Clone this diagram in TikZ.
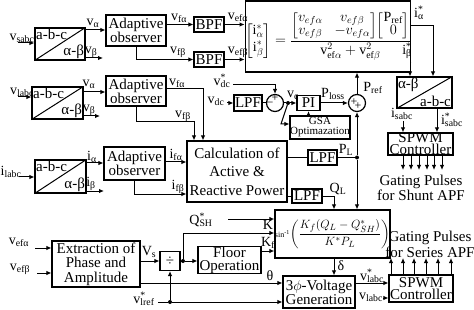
\documentclass[tikz,border=0pt]{standalone}
\usepackage{fontspec}
\setmainfont{Liberation Serif}
\usepackage{amsmath}
\usetikzlibrary{arrows.meta}

\newcommand{\sg}[2]{#1\textsubscript{#2}}
\newcommand{\sgs}[2]{#1\rlap{\textsuperscript{*}}\textsubscript{#2}}

\begin{document}
\begin{tikzpicture}[x=1pt, y=-1pt,
    box/.style={draw, line width=1.2pt, align=center, inner sep=0pt,
      font=\fontsize{15}{14}\selectfont},
    txt/.style={align=center, inner sep=1.5pt, font=\fontsize{15}{14}\selectfont},
    lbl/.style={inner sep=0pt, font=\fontsize{14}{14}\selectfont},
    arr/.style={-{Latex[length=5pt,width=4.5pt]}, line width=1pt},
    ln/.style={line width=1pt},
    dot/.style={circle, fill, inner sep=0pt, minimum size=4pt},
    sumc/.style={circle, draw, line width=1.2pt, minimum size=17pt, inner sep=0pt}
  ]
  \useasboundingbox (0,0) rectangle (474,310);

  % ---- voltage source branch
  \node[box, minimum width=50pt, minimum height=32pt] (abc1) at (60,44) {};
  \draw[ln] (abc1.south west) -- (abc1.north east);
  \node[txt, anchor=north west] (abc1u) at (abc1.north west) {a-b-c};
  \node[txt, anchor=south east] (abc1d) at (abc1.south east) {α-β};
  \node[box, minimum width=60pt, minimum height=31pt] (obs1) at (136,30.5) {Adaptive\\observer};
  \node[box, minimum width=30pt, minimum height=15pt] (bpf1) at (209,24.5) {BPF};
  \node[box, minimum width=30pt, minimum height=15pt] (bpf2) at (209,59.5) {BPF};
  \node[box, minimum width=148pt, minimum height=71pt, font=\fontsize{14}{13}\selectfont] (mat) at (328,36.5)
    {$\begin{bmatrix}\mathrm{i}^*_\alpha\\[3pt] \mathrm{i}^*_\beta\end{bmatrix}=
      \dfrac{{\arraycolsep=6pt\begin{bmatrix} v_{ef\alpha} & v_{ef\beta}\\ v_{ef\beta} & -v_{ef\alpha}\end{bmatrix}}\!
      \begin{bmatrix}\mathrm{P}_{\mathrm{ref}}\\ 0\end{bmatrix}}
      {\mathrm{v}^2_{\mathrm{ef}\alpha}+\mathrm{v}^2_{\mathrm{ef}\beta}}$};

  \coordinate (vsin) at (18,43);
  \draw[arr] (vsin) -- (abc1.west |- vsin);
  \node[lbl] (lvs) at (22,38) {\sg{v}{sabc}};
  \draw[arr] (abc1.east |- 0,30) -- (obs1.west |- 0,30);
  \node[lbl] (lva1) at (93,23) {\sg{v}{α}};
  \coordinate (vb1) at (103,58);
  \draw[arr] (abc1.east |- vb1) -- (vb1);
  \node[lbl] (lvb1) at (91,52) {\sg{v}{β}};
  \draw[arr] (obs1.east |- bpf1) -- (bpf1);
  \node[lbl] (lvfa1) at (179,18) {\sg{v}{fα}};
  \draw[arr] (obs1.south) -- (obs1.south |- bpf2) -- (bpf2);
  \node[lbl] (lvfb1) at (178,52) {\sg{v}{fβ}};
  \draw[arr] (bpf1) -- (mat.west |- bpf1);
  \node[lbl] (lvefa1) at (238,17) {\sg{v}{efα}};
  \draw[arr] (bpf2) -- (mat.west |- bpf2);
  \node[lbl] (lvefb1) at (238,52) {\sg{v}{efβ}};

  % ---- shunt reference currents
  \node[box, minimum width=55pt, minimum height=31pt] (abcs) at (424.5,92.5) {};
  \draw[ln] (abcs.south west) -- (abcs.north east);
  \node[txt, anchor=north west] (abcsu) at (abcs.north west) {α-β};
  \node[txt, anchor=south east] (abcsd) at (abcs.south east) {a-b-c};
  \coordinate (iaturn) at (433,26);
  \draw[arr] (mat.east |- iaturn) -- (iaturn) -- (iaturn |- abcs.north);
  \node[lbl] (lia) at (419,13) {\sgs{i}{α}};
  \coordinate (ibturn) at (410,63);
  \draw[arr] (mat.east |- ibturn) -- (ibturn) -- (ibturn |- abcs.north);
  \node[lbl] (lib) at (407,51) {\sgs{i}{β}};
  \node[box, minimum width=65pt, minimum height=22pt, font=\fontsize{15}{12}\selectfont] (spwm1) at (420.5,144) {SPWM\\Controller};
  \coordinate (isin) at (403,121);
  \draw[arr] (isin) -- (isin |- spwm1.north);
  \node[lbl] (lis) at (402,114) {\sg{i}{sabc}};
  \coordinate (isr) at (437,120);
  \draw[arr] (abcs.south -| isr) -- (spwm1.north -| isr);
  \node[lbl] (lisr) at (452,120) {\sgs{i}{sabc}};
  \foreach \x in {403,411,419,427,434,442}
    \draw[arr] (spwm1.south -| \x,0) -- (\x,170);
  \node[txt, font=\fontsize{15}{15}\selectfont] (gps) at (421,188) {Gating Pulses\\for Shunt APF};

  % ---- load voltage branch
  \node[box, minimum width=51pt, minimum height=32pt] (abc2) at (57.5,103) {};
  \draw[ln] (abc2.south west) -- (abc2.north east);
  \node[txt, anchor=north west] (abc2u) at (abc2.north west) {a-b-c};
  \node[txt, anchor=south east] (abc2d) at (abc2.south east) {α-β};
  \node[box, minimum width=60pt, minimum height=30pt] (obs2) at (136,91) {Adaptive\\observer};
  \node[box, minimum width=100pt, minimum height=61pt, font=\fontsize{15}{18.5}\selectfont] (calc) at (237,171.5)
    {Calculation of\\Active \&\\Reactive Power};
  \coordinate (vlin) at (18,97);
  \draw[arr] (vlin) -- (abc2.west |- vlin);
  \node[lbl] (lvl) at (22,92) {\sg{v}{labc}};
  \draw[arr] (abc2.east |- 0,92) -- (obs2.west |- 0,92);
  \node[lbl] (lva2) at (89,84) {\sg{v}{α}};
  \coordinate (vb2) at (100,116);
  \draw[arr] (abc2.east |- vb2) -- (vb2);
  \node[lbl] (lvb2) at (89,110) {\sg{v}{β}};
  \coordinate (vfa2turn) at (203,89);
  \draw[arr] (obs2.east |- vfa2turn) -- (vfa2turn) -- (vfa2turn |- calc.north);
  \node[lbl] (lvfa2) at (177,83) {\sg{v}{fα}};
  \coordinate (vfb2turn) at (194,122);
  \draw[arr] (obs2.south) -- (obs2.south |- vfb2turn) -- (vfb2turn) -- (vfb2turn |- calc.north);
  \node[lbl] (lvfb2) at (183,116) {\sg{v}{fβ}};

  % ---- load current branch
  \node[box, minimum width=51pt, minimum height=33pt] (abc3) at (60.5,176.5) {};
  \draw[ln] (abc3.south west) -- (abc3.north east);
  \node[txt, anchor=north west] (abc3u) at (abc3.north west) {a-b-c};
  \node[txt, anchor=south east] (abc3d) at (abc3.south east) {α-β};
  \node[box, minimum width=61pt, minimum height=33pt] (obs3) at (134.5,163.5) {Adaptive\\observer};
  \coordinate (ilin) at (19,177);
  \draw[arr] (ilin) -- (abc3.west |- ilin);
  \node[lbl] (lil) at (11,172) {\sg{i}{labc}};
  \draw[arr] (abc3.east |- 0,163) -- (obs3.west |- 0,163);
  \node[lbl] (lia3) at (92,157) {\sg{i}{α}};
  \coordinate (ib3) at (104,191);
  \draw[arr] (abc3.east |- ib3) -- (ib3);
  \node[lbl] (lib3) at (91,184) {\sg{i}{β}};
  \draw[arr] (obs3.east |- 0,162) -- (calc.west |- 0,162);
  \node[lbl] (lifa) at (176,155) {\sg{i}{fα}};
  \draw[arr] (obs3.south) -- (obs3.south |- 0,194) -- (calc.west |- 0,194);
  \node[lbl] (lifb) at (178,187) {\sg{i}{fβ}};

  % ---- dc link loop
  \node[box, minimum width=28pt, minimum height=16pt] (lpfdc) at (248,103) {LPF};
  \node[sumc] (sum1) at (275,103) {};
  \node[inner sep=0pt, font=\fontsize{12}{12}\selectfont] (s1p) at (275,98) {+};
  \node[inner sep=0pt, font=\fontsize{12}{12}\selectfont] (s1m) at (270,104) {−};
  \node[dot] (vc) at (288,103) {};
  \node[box, minimum width=23pt, minimum height=15pt] (pi) at (308.5,103) {PI};
  \node[box, minimum width=60pt, minimum height=23pt, font=\fontsize{11}{10}\selectfont] (gsa) at (320,127.5) {GSA\\Optimazation};
  \node[sumc] (sum2) at (357,103) {};
  \node[inner sep=0pt, font=\fontsize{12}{12}\selectfont] (s2a) at (354,102) {+};
  \node[inner sep=0pt, font=\fontsize{12}{12}\selectfont] (s2b) at (358,106) {+};
  \coordinate (vdcs) at (233,85);
  \draw[arr] (vdcs) -- (vdcs -| sum1) -- (sum1);
  \node[lbl] (lvdcs) at (222,81) {v\rlap{\textsuperscript{*}}\textsubscript{dc}};
  \coordinate (vdcin) at (227,103);
  \draw[arr] (vdcin) -- (lpfdc);
  \node[lbl] (lvdc) at (216,101) {\sg{v}{dc}};
  \draw[ln] (lpfdc) -- (sum1);
  \draw[ln] (sum1) -- (vc);
  \draw[arr] (vc) -- (pi);
  \node[lbl] (lvc) at (293,95) {\sg{v}{c}};
  \draw[arr] (vc) -- (281,124) -- (gsa.west |- 0,124);
  \draw[arr] (pi.south |- gsa.north) -- (pi.south);
  \draw[arr] (pi) -- (sum2);
  \node[lbl] (lploss) at (333,94) {\sg{P}{loss}};
  \draw[arr] (sum2) -- (sum2 |- mat.south);
  \node[lbl] (lpref) at (373,88) {\sg{P}{ref}};

  % ---- power filters
  \node[box, minimum width=29pt, minimum height=15pt] (lpfp) at (322.5,157.5) {LPF};
  \node[box, minimum width=30pt, minimum height=14pt] (lpfq) at (307,196) {LPF};
  \node[dot] (pldot) at (357,157.5) {};
  \draw[ln] (calc.east |- lpfp) -- (lpfp);
  \draw[ln] (lpfp) -- (pldot);
  \node[lbl] (lpl) at (346,150) {\sg{P}{L}};
  \draw[arr] (pldot) -- (sum2);
  \node[box, minimum width=99pt, minimum height=48pt, font=\fontsize{13}{13}\selectfont] (sinb) at (332.5,234)
    {{\fontsize{8}{8}\selectfont sin\textsuperscript{-1}}$\left(\dfrac{K_f(Q_L-Q^*_{SH})}{K^*P_L}\right)$};
  \draw[arr] (pldot) -- (pldot |- sinb.north);
  \draw[ln] (calc.east |- lpfq) -- (lpfq);
  \coordinate (qlturn) at (334,196);
  \draw[arr] (lpfq) -- (qlturn) -- (qlturn |- sinb.north);
  \node[lbl] (lql) at (338,189) {\sg{Q}{L}};

  % ---- series branch
  \node[box, minimum width=88pt, minimum height=46pt, font=\fontsize{15}{14.5}\selectfont] (ext) at (96,264)
    {Extraction of\\Phase and\\Amplitude};
  \node[box, minimum width=20pt, minimum height=19pt] (div) at (170,261) {÷};
  \node[dot] (kdot) at (183,261) {};
  \node[box, minimum width=63pt, minimum height=26pt, font=\fontsize{15}{13}\selectfont] (floor) at (229.5,260) {Floor\\Operation};
  \node[box, minimum width=72pt, minimum height=32pt, font=\fontsize{15}{13}\selectfont] (phi) at (319,292) {3$\phi$-Voltage\\Generation};
  \node[box, minimum width=64pt, minimum height=27pt, font=\fontsize{15}{12}\selectfont] (spwm2) at (421,288.5) {SPWM\\Controller};
  \node[dot] (lrdot) at (170,302) {};

  \coordinate (vefain) at (35,248);
  \draw[arr] (vefain) -- (ext.west |- vefain);
  \node[lbl] (lvefa2) at (19,242) {\sg{v}{efα}};
  \coordinate (vefbin) at (37,273);
  \draw[arr] (vefbin) -- (ext.west |- vefbin);
  \node[lbl] (lvefb2) at (20,269) {\sg{v}{efβ}};
  \draw[arr] (ext.east |- div) -- (div);
  \node[lbl] (lvs2) at (149,252) {\sg{V}{s}};
  \draw[ln] (div) -- (kdot);
  \draw[arr] (kdot) -- (floor.west |- kdot);
  \coordinate (qsin) at (228,219);
  \draw[arr] (qsin) -- (sinb.west |- qsin);
  \node[lbl] (lqsh) at (201,220) {Q\rlap{\textsuperscript{*}}\textsubscript{SH}};
  \draw[arr] (kdot) -- (kdot |- 0,233) -- (sinb.west |- 0,233);
  \node[lbl] (lk) at (268,225) {K};
  \draw[arr] (floor.east |- 0,251) -- (sinb.west |- 0,251);
  \node[lbl] (lkf) at (268,243) {\sg{K}{f}};
  \draw[arr] (sinb.south -| qlturn) -- (phi.north -| qlturn);
  \node[lbl] (ldelta) at (341,266) {δ};
  \draw[arr] (ext.east |- 0,283) -- (phi.west |- 0,283);
  \node[lbl] (ltheta) at (270,276) {θ};
  \coordinate (vlrin) at (158,302);
  \draw[ln] (vlrin) -- (lrdot);
  \draw[arr] (lrdot) -- (phi.west |- lrdot);
  \draw[arr] (lrdot) -- (div);
  \node[lbl] (lvlr) at (144,299) {v\rlap{\textsuperscript{*}}\textsubscript{lref}};
  \draw[arr] (phi.east |- 0,283) -- (spwm2.west |- 0,283);
  \node[lbl] (lvlabs) at (372,276) {v\rlap{\textsuperscript{*}}\textsubscript{labc}};
  \coordinate (vlabin) at (383,298);
  \draw[arr] (vlabin) -- (spwm2.west |- vlabin);
  \node[lbl] (lvlab) at (371,297) {\sg{v}{labc}};
  \foreach \x in {391,403,414,426,438,451}
    \draw[arr] (spwm2.north -| \x,0) -- (\x,258);
  \node[txt, font=\fontsize{15}{16}\selectfont] (gps2) at (430,244) {Gating Pulses\\for Series APF};
\end{tikzpicture}
\end{document}
